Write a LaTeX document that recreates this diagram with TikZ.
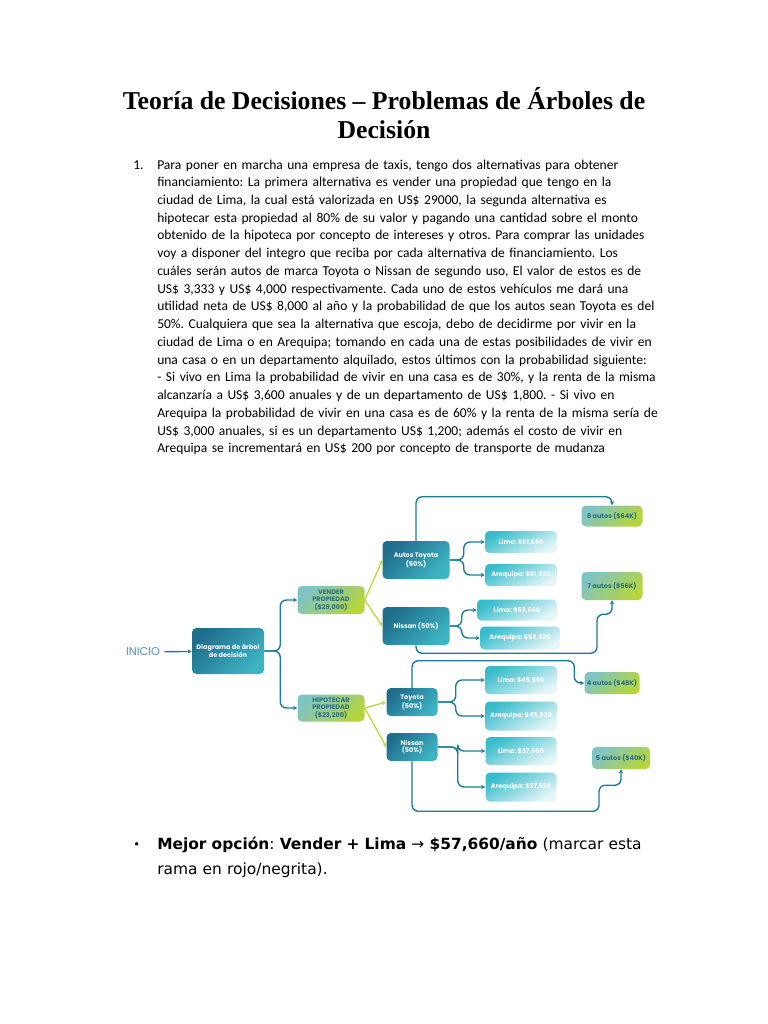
\documentclass[tikz,border=0pt]{standalone}
\usepackage{fontspec}
\setmainfont{Carlito}
\newfontfamily\titlefont{Liberation Serif}
\newfontfamily\listfont{DejaVu Sans}
\newfontfamily\treefont{Poppins}
\usetikzlibrary{arrows.meta,calc}
\frenchspacing

\definecolor{tealdark}{HTML}{1F6E8C}
\definecolor{teallight}{HTML}{3DB3C4}
\definecolor{greenA}{HTML}{7FC4C4}
\definecolor{greenB}{HTML}{B6D53C}
\definecolor{cyanA}{HTML}{38BCCB}
\definecolor{cyanB}{HTML}{E6F6F8}
\definecolor{linkcol}{HTML}{1C7C98}
\definecolor{limecol}{HTML}{B9D83A}
\definecolor{inicol}{HTML}{4E97B0}
\definecolor{greentext}{HTML}{2A6E85}

\tikzset{
  boxsize/.style 2 args={
    minimum width=#1*0.796875pt,
    minimum height=#2*0.796875pt
  },
  treebox/.style={
    rounded corners=3.5pt,
    align=center,
    inner sep=1pt,
    font=\treefont\bfseries\fontsize{5.2}{6}\selectfont
  },
  darkbox/.style={
    treebox,
    top color=tealdark,
    bottom color=teallight,
    shading angle=45,
    text=white
  },
  greenbox/.style={
    treebox,
    top color=greenA,
    bottom color=greenB,
    shading angle=45,
    text=greentext
  },
  leafbox/.style={
    treebox,
    top color=cyanA,
    bottom color=cyanB,
    shading angle=30,
    text=white
  },
  link/.style={
    draw=linkcol,
    line width=1.1pt,
    rounded corners=5pt,
    -{Stealth[length=3.2pt,width=3.2pt]}
  },
  limelink/.style={
    draw=limecol,
    line width=1pt,
    -{Stealth[length=3.2pt,width=3.2pt]}
  },
}

\begin{document}
\begin{tikzpicture}[x=0.796875pt,y=-0.796875pt]
  \useasboundingbox[fill=white] (0,0) rectangle (768,1024);

  % title
  \node[anchor=base,font=\titlefont\bfseries\fontsize{20.5}{24}\selectfont] (title1) at (384,109)
    {Teoría de Decisiones – Problemas de Árboles de};
  \node[anchor=base,font=\titlefont\bfseries\fontsize{20.5}{24}\selectfont] (title2) at (384,138)
    {Decisión};

  % problem statement
  \node[anchor=base west,inner sep=0,font=\fontsize{10.8}{14.14}\selectfont] (num) at (133,169) {1.};
  \node[anchor=base west,inner sep=0,text width=560*0.796875pt,align=left,
        font=\fontsize{10.8}{14.14}\selectfont] (stmt) at (157,169)
    {Para poner en marcha una empresa de taxis, tengo dos alternativas para obtener\\
     financiamiento: La primera alternativa es vender una propiedad que tengo en la\\
     ciudad de Lima, la cual está valorizada en US\$ 29000, la segunda alternativa es\\
     hipotecar esta propiedad al 80\% de su valor y pagando una cantidad sobre el monto\\
     obtenido de la hipoteca por concepto de intereses y otros. Para comprar las unidades\\
     voy a disponer del integro que reciba por cada alternativa de financiamiento. Los\\
     cuáles serán autos de marca Toyota o Nissan de segundo uso, El valor de estos es de\\
     US\$ 3,333 y US\$ 4,000 respectivamente. Cada uno de estos vehículos me dará una\\
     utilidad neta de US\$ 8,000 al año y la probabilidad de que los autos sean Toyota es del\\
     50\%. Cualquiera que sea la alternativa que escoja, debo de decidirme por vivir en la\\
     ciudad de Lima o en Arequipa; tomando en cada una de estas posibilidades de vivir en\\
     una casa o en un departamento alquilado, estos últimos con la probabilidad siguiente:\\
     - Si vivo en Lima la probabilidad de vivir en una casa es de 30\%, y la renta de la misma\\
     alcanzaría a US\$ 3,600 anuales y de un departamento de US\$ 1,800. - Si vivo en\\
     Arequipa la probabilidad de vivir en una casa es de 60\% y la renta de la misma sería de\\
     US\$ 3,000 anuales, si es un departamento US\$ 1,200; además el costo de vivir en\\
     Arequipa se incrementará en US\$ 200 por concepto de transporte de mudanza};

  % decision tree
  \node[font=\treefont\fontsize{9}{10}\selectfont,text=inicol] (inicio) at (143,652) {INICIO};
  \node[darkbox,boxsize={72}{46}] (diag) at (228,651) {Diagrama de árbol\\de decisión};
  \node[greenbox,boxsize={67}{28}] (vender) at (331,600) {VENDER\\PROPIEDAD\\(\$29,000)};
  \node[greenbox,boxsize={67}{27}] (hipo) at (331,708) {HIPOTECAR\\PROPIEDAD\\(\$23,200)};

  \node[darkbox,boxsize={67}{38}] (toyA) at (416,560) {Autos Toyota\\(50\%)};
  \node[darkbox,boxsize={67}{38}] (nisA) at (416,626) {Nissan (50\%)};
  \node[darkbox,boxsize={51}{28}] (toyB) at (412,702) {Toyota\\(50\%)};
  \node[darkbox,boxsize={51}{28}] (nisB) at (412,747) {Nissan\\(50\%)};

  \node[leafbox,boxsize={72}{22}] (limaTA) at (521,542) {Lima: \$61,660};
  \node[leafbox,boxsize={72}{22}] (areqTA) at (521,575) {Arequipa: \$61,620};
  \node[leafbox,boxsize={80}{21}] (limaNA) at (517,610) {Lima: \$53,660};
  \node[leafbox,boxsize={80}{23}] (areqNA) at (520,638) {Arequipa: \$53,520};
  \node[leafbox,boxsize={72}{28}] (limaTB) at (521,680) {Lima: \$45,660};
  \node[leafbox,boxsize={72}{29}] (areqTB) at (521,716) {Arequipa: \$45,520};
  \node[leafbox,boxsize={71}{28}] (limaNB) at (521,751) {Lima: \$37,660};
  \node[leafbox,boxsize={71}{29}] (areqNB) at (521,787) {Arequipa: \$37,520};

  \node[greenbox,boxsize={61}{21}] (a8) at (612,516) {8 autos (\$64K)};
  \node[greenbox,boxsize={61}{28}] (a7) at (612,586) {7 autos (\$56K)};
  \node[greenbox,boxsize={55}{22}] (a4) at (612,683) {4 autos (\$48K)};
  \node[greenbox,boxsize={58}{22}] (a5) at (621,758) {5 autos (\$40K)};

  \draw[link] (inicio) -- (diag);
  \draw[link] (diag.east) -- ++(16,0) |- (vender.west);
  \draw[link] (diag.east) -- ++(16,0) |- (hipo.west);
  \draw[limelink] (vender.east) -- (toyA.west);
  \draw[limelink] (vender.east) -- (nisA.west);
  \draw[limelink] (hipo.east) -- (toyB.west);
  \draw[limelink] (hipo.east) -- (nisB.west);

  \draw[link] (toyA.east) -- ++(14,0) |- (limaTA.west);
  \draw[link] (toyA.east) -- ++(14,0) |- (areqTA.west);
  \draw[link] (nisA.east) -- ++(12,0) |- (limaNA.west);
  \draw[link] (nisA.east) -- ++(12,0) |- (areqNA.west);
  \draw[link] (toyB.east) -- ++(18,0) |- (limaTB.west);
  \draw[link] (toyB.east) -- ++(18,0) |- (areqTB.west);
  \draw[link] (nisB.east) -- ++(20,0) |- (limaNB.west);
  \draw[link] (nisB.east) -- ++(20,0) |- (areqNB.west);

  \draw[link] (toyA.north) -- ++(0,-44) -| (a8.north);
  \draw[link] (nisA.south) -- ++(0,8) -| ($(a7.south)+(-15,14)$) -| (a7.south);
  \draw[link] (toyB.north) -- ++(0,-27) -| ($(a4.west)+(-10,0)$) -- (a4.west);
  \draw[link] (nisB.south) -- ++(0,50) -| ($(a5.south)+(-22,16)$) -| (a5.south);

  % conclusion
  \node[anchor=base west,inner sep=0,font=\listfont\fontsize{9}{20.7}\selectfont] (dot) at (133,848) {•};
  \node[anchor=base west,inner sep=0,text width=560*0.796875pt,align=left,
        font=\listfont\fontsize{12.3}{20.7}\selectfont] (best) at (157,849)
    {\textbf{Mejor opción}: \textbf{Vender + Lima} → \textbf{\$57,660/año} (marcar esta\\
     rama en rojo/negrita).};
\end{tikzpicture}
\end{document}
